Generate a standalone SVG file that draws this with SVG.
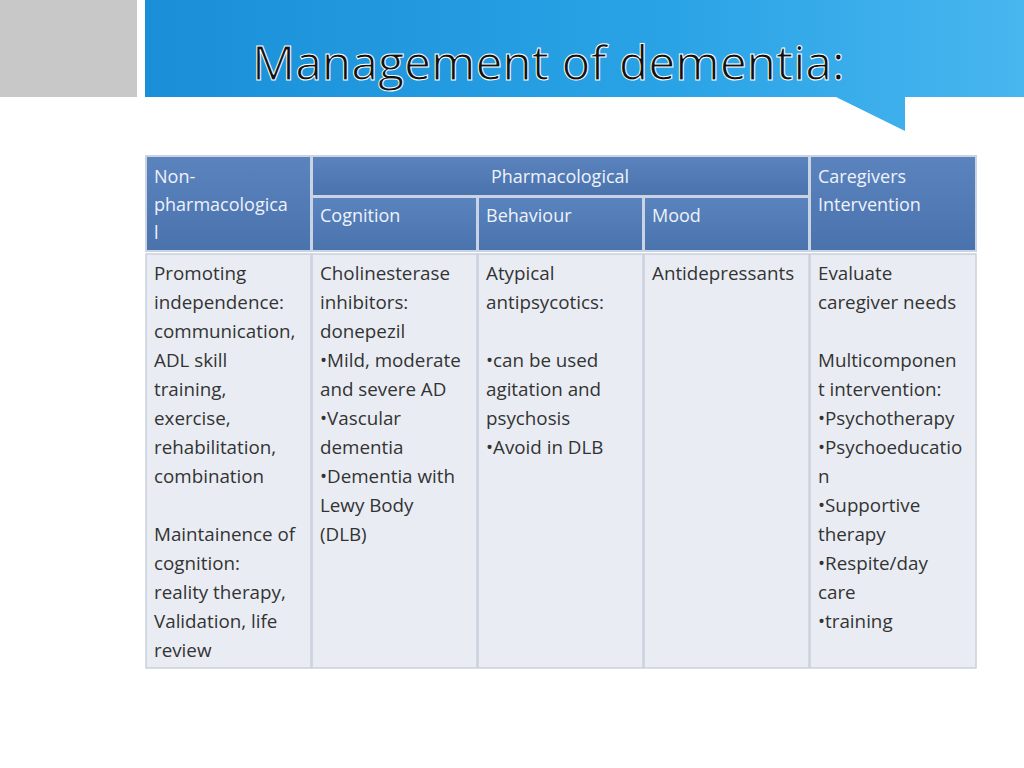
<svg xmlns="http://www.w3.org/2000/svg" width="1024" height="768" viewBox="0 0 1024 768">
<defs>
<linearGradient id="bg" x1="0" y1="0" x2="1" y2="0"><stop offset="0" stop-color="#1a8fd8"/><stop offset="0.6" stop-color="#2aa3e6"/><stop offset="1" stop-color="#48b6ef"/></linearGradient>
<linearGradient id="hd" x1="0" y1="0" x2="0" y2="1"><stop offset="0" stop-color="#5b84bf"/><stop offset="1" stop-color="#4a72ad"/></linearGradient>
<style>
.h{font-family:"Open Sans","Liberation Sans",sans-serif;font-size:18px;fill:#eef2fa}
.b{font-family:"Open Sans","Liberation Sans",sans-serif;font-size:18.8px;fill:#333}
.c{fill:url(#hd);stroke:#c9d3e3;stroke-width:2}
.d{fill:#e9edf3;stroke:#c9d0db;stroke-width:1.5}
</style>
</defs>
<rect width="1024" height="768" fill="#fff"/>
<rect x="0" y="0" width="137" height="97" fill="#c8c8c8"/>
<path d="M145 0H1024V97H905V131L836 97H145Z" fill="url(#bg)"/>
<text x="252" y="80" font-family="Open Sans,Liberation Sans,sans-serif" font-size="48" fill="#111" stroke="#fff" stroke-width="1">Management of dementia:</text>
<g id="table">
<rect class="c" x="146" y="156" width="165" height="95"/>
<rect class="c" x="312" y="156" width="497" height="40"/>
<rect class="c" x="312" y="197" width="165" height="54"/>
<rect class="c" x="478" y="197" width="165" height="54"/>
<rect class="c" x="644" y="197" width="165" height="54"/>
<rect class="c" x="810" y="156" width="166" height="95"/>
<rect class="d" x="146" y="254" width="165" height="414"/>
<rect class="d" x="312" y="254" width="165" height="414"/>
<rect class="d" x="478" y="254" width="165" height="414"/>
<rect class="d" x="644" y="254" width="165" height="414"/>
<rect class="d" x="810" y="254" width="166" height="414"/>
<text class="h" x="154" y="183">Non-</text>
<text class="h" x="154" y="211">pharmacologica</text>
<text class="h" x="154" y="239">l</text>
<text class="h" x="560" y="183" text-anchor="middle">Pharmacological</text>
<text class="h" x="320" y="222">Cognition</text>
<text class="h" x="486" y="222">Behaviour</text>
<text class="h" x="652" y="222">Mood</text>
<text class="h" x="818" y="183">Caregivers</text>
<text class="h" x="818" y="211">Intervention</text>
<g class="b">
<text x="154" y="280">Promoting</text>
<text x="154" y="309">independence:</text>
<text x="154" y="338">communication,</text>
<text x="154" y="367">ADL skill</text>
<text x="154" y="396">training,</text>
<text x="154" y="425">exercise,</text>
<text x="154" y="454">rehabilitation,</text>
<text x="154" y="483">combination</text>
<text x="154" y="541">Maintainence of</text>
<text x="154" y="570">cognition:</text>
<text x="154" y="599">reality therapy,</text>
<text x="154" y="628">Validation, life</text>
<text x="154" y="657">review</text>
<text x="320" y="280">Cholinesterase</text>
<text x="320" y="309">inhibitors:</text>
<text x="320" y="338">donepezil</text>
<text x="320" y="367">•Mild, moderate</text>
<text x="320" y="396">and severe AD</text>
<text x="320" y="425">•Vascular</text>
<text x="320" y="454">dementia</text>
<text x="320" y="483">•Dementia with</text>
<text x="320" y="512">Lewy Body</text>
<text x="320" y="541">(DLB)</text>
<text x="486" y="280">Atypical</text>
<text x="486" y="309">antipsycotics:</text>
<text x="486" y="367">•can be used</text>
<text x="486" y="396">agitation and</text>
<text x="486" y="425">psychosis</text>
<text x="486" y="454">•Avoid in DLB</text>
<text x="652" y="280">Antidepressants</text>
<text x="818" y="280">Evaluate</text>
<text x="818" y="309">caregiver needs</text>
<text x="818" y="367">Multicomponen</text>
<text x="818" y="396">t intervention:</text>
<text x="818" y="425">•Psychotherapy</text>
<text x="818" y="454">•Psychoeducatio</text>
<text x="818" y="483">n</text>
<text x="818" y="512">•Supportive</text>
<text x="818" y="541">therapy</text>
<text x="818" y="570">•Respite/day</text>
<text x="818" y="599">care</text>
<text x="818" y="628">•training</text>
</g>
</g>
</svg>
